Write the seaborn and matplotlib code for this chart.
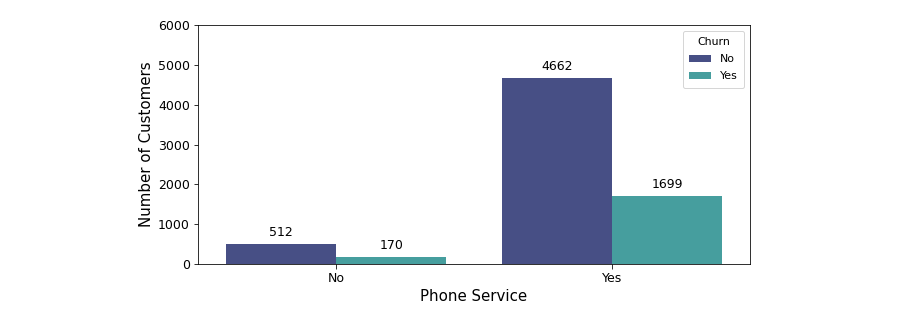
import matplotlib
matplotlib.use("Agg")
import matplotlib.pyplot as plt
import seaborn as sns
import pandas as pd

phone_service = ["No", "No", "Yes", "Yes"]
churn = ["No", "Yes", "No", "Yes"]
counts = [512, 170, 4662, 1699]

df = pd.DataFrame({"PhoneService": phone_service, "Churn": churn, "Count": counts})

fig = plt.figure(figsize=(898/72, 313/72), dpi=72)
ax = fig.add_axes([198/898, 1-264/313, (750-198)/898, (264-25)/313])
sns.barplot(data=df, x="PhoneService", y="Count", hue="Churn",
            palette=["#474f85", "#469e9e"], saturation=1, ax=ax,
            order=["No", "Yes"], hue_order=["No", "Yes"])
for c in ax.containers:
    ax.bar_label(c, padding=5, fontsize=12.5)
ax.set_ylim(0, 6000)
ax.set_xlabel("Phone Service", fontsize=15)
ax.set_ylabel("Number of Customers", fontsize=15)
ax.tick_params(labelsize=12.5, length=4.5)
leg = ax.legend(title="Churn", loc="upper right", fontsize=11, title_fontsize=11,
                labelspacing=0.65, borderpad=0.6)
fig.savefig("out.png", dpi=72)
